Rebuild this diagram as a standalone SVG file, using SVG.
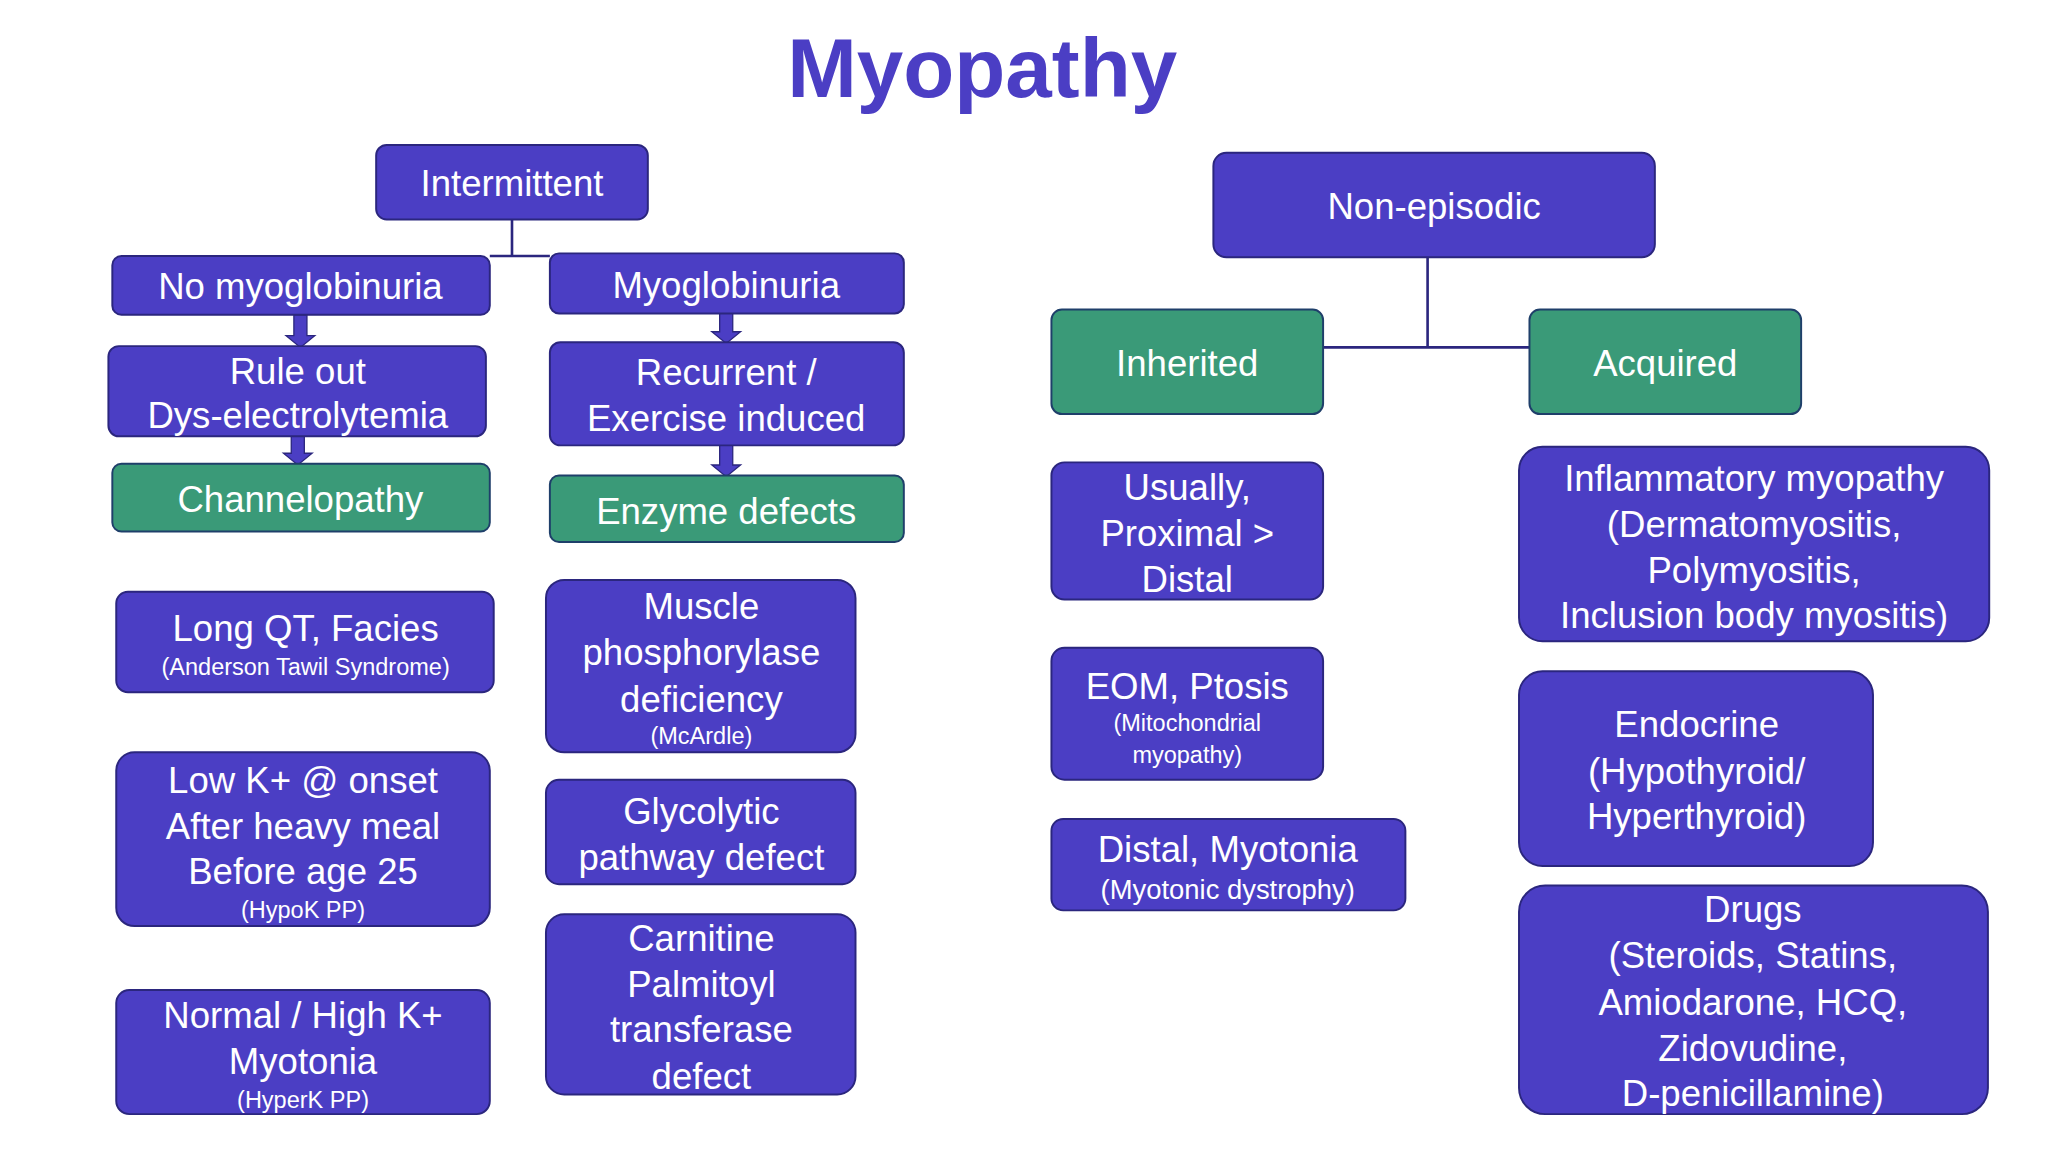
<svg xmlns="http://www.w3.org/2000/svg" width="2048" height="1152" viewBox="0 0 2048 1152">
<defs><style>
.b{fill:#4b3ec4;stroke:#2b267e;stroke-width:1.5}
.g{fill:#3a9a78;stroke:#1f3f6a;stroke-width:1.5}
text{font-family:"Liberation Sans",Arial,sans-serif;fill:#fff;text-anchor:middle}
.t{font-size:28px}
.s{font-size:18px}
.c{stroke:#2b267e;stroke-width:2;fill:none}
.a{fill:#4b3ec4;stroke:#2b267e;stroke-width:1}
</style></defs>
<rect width="2048" height="1152" fill="#fff"/>
<g transform="scale(1.30612)">
<text x="752" y="74" style="font-size:64px;font-weight:bold;fill:#4b3ec4">Myopathy</text>
<g id="connectors">
<path class="c" d="M392 168V196M375 196H421M1093 197V266M1013 266H1171"/>
<path class="a" d="M225 241h10v16h6l-11 9l-11-9h6z"/>
<path class="a" d="M223 334h10v13h6l-11 9l-11-9h6z"/>
<path class="a" d="M551 240h10v14h6l-11 9l-11-9h6z"/>
<path class="a" d="M551 341h10v15h6l-11 9l-11-9h6z"/>
</g>
<g id="intermittent"><rect class="b" x="288" y="111" width="208" height="57" rx="8"/><text class="t" x="392" y="150">Intermittent</text></g>
<g id="nomyo"><rect class="b" x="86" y="196" width="289" height="45" rx="7"/><text class="t" x="230" y="229">No myoglobinuria</text></g>
<g id="myo"><rect class="b" x="421" y="194" width="271" height="46" rx="7"/><text class="t" x="556" y="228">Myoglobinuria</text></g>
<g id="ruleout"><rect class="b" x="83" y="265" width="289" height="69" rx="8"/><text class="t" x="228" y="294">Rule out</text><text class="t" x="228" y="328">Dys-electrolytemia</text></g>
<g id="recurrent"><rect class="b" x="421" y="262" width="271" height="79" rx="8"/><text class="t" x="556" y="295">Recurrent /</text><text class="t" x="556" y="330">Exercise induced</text></g>
<g id="channel"><rect class="g" x="86" y="355" width="289" height="52" rx="7"/><text class="t" x="230" y="392">Channelopathy</text></g>
<g id="enzyme"><rect class="g" x="421" y="364" width="271" height="51" rx="7"/><text class="t" x="556" y="401">Enzyme defects</text></g>
<g id="longqt"><rect class="b" x="89" y="453" width="289" height="77" rx="9"/><text class="t" x="234" y="491">Long QT, Facies</text><text class="s" x="234" y="517">(Anderson Tawil Syndrome)</text></g>
<g id="mcardle"><rect class="b" x="418" y="444" width="237" height="132" rx="14"/><text class="t" x="537" y="474">Muscle</text><text class="t" x="537" y="509">phosphorylase</text><text class="t" x="537" y="545">deficiency</text><text class="s" x="537" y="570">(McArdle)</text></g>
<g id="lowk"><rect class="b" x="89" y="576" width="286" height="133" rx="14"/><text class="t" x="232" y="607">Low K+ @ onset</text><text class="t" x="232" y="642">After heavy meal</text><text class="t" x="232" y="677">Before age 25</text><text class="s" x="232" y="703">(HypoK PP)</text></g>
<g id="glyco"><rect class="b" x="418" y="597" width="237" height="80" rx="10"/><text class="t" x="537" y="631">Glycolytic</text><text class="t" x="537" y="666">pathway defect</text></g>
<g id="normalk"><rect class="b" x="89" y="758" width="286" height="95" rx="10"/><text class="t" x="232" y="787">Normal / High K+</text><text class="t" x="232" y="822">Myotonia</text><text class="s" x="232" y="848">(HyperK PP)</text></g>
<g id="carnitine"><rect class="b" x="418" y="700" width="237" height="138" rx="14"/><text class="t" x="537" y="728">Carnitine</text><text class="t" x="537" y="763">Palmitoyl</text><text class="t" x="537" y="798">transferase</text><text class="t" x="537" y="834">defect</text></g>
<g id="nonepisodic"><rect class="b" x="929" y="117" width="338" height="80" rx="10"/><text class="t" x="1098" y="168">Non-episodic</text></g>
<g id="inherited"><rect class="g" x="805" y="237" width="208" height="80" rx="8"/><text class="t" x="909" y="288">Inherited</text></g>
<g id="acquired"><rect class="g" x="1171" y="237" width="208" height="80" rx="8"/><text class="t" x="1275" y="288">Acquired</text></g>
<g id="usually"><rect class="b" x="805" y="354" width="208" height="105" rx="10"/><text class="t" x="909" y="383">Usually,</text><text class="t" x="909" y="418">Proximal &gt;</text><text class="t" x="909" y="453">Distal</text></g>
<g id="eom"><rect class="b" x="805" y="496" width="208" height="101" rx="10"/><text class="t" x="909" y="535">EOM, Ptosis</text><text class="s" x="909" y="560">(Mitochondrial</text><text class="s" x="909" y="584">myopathy)</text></g>
<g id="distal"><rect class="b" x="805" y="627" width="271" height="70" rx="9"/><text class="t" x="940" y="660">Distal, Myotonia</text><text class="s" x="940" y="688" style="font-size:21px">(Myotonic dystrophy)</text></g>
<g id="inflam"><rect class="b" x="1163" y="342" width="360" height="149" rx="18"/><text class="t" x="1343" y="376">Inflammatory myopathy</text><text class="t" x="1343" y="411">(Dermatomyositis,</text><text class="t" x="1343" y="446">Polymyositis,</text><text class="t" x="1343" y="481">Inclusion body myositis)</text></g>
<g id="endocrine"><rect class="b" x="1163" y="514" width="271" height="149" rx="18"/><text class="t" x="1299" y="564">Endocrine</text><text class="t" x="1299" y="600">(Hypothyroid/</text><text class="t" x="1299" y="635">Hyperthyroid)</text></g>
<g id="drugs"><rect class="b" x="1163" y="678" width="359" height="175" rx="20"/><text class="t" x="1342" y="706">Drugs</text><text class="t" x="1342" y="741">(Steroids, Statins,</text><text class="t" x="1342" y="777">Amiodarone, HCQ,</text><text class="t" x="1342" y="812">Zidovudine,</text><text class="t" x="1342" y="847">D-penicillamine)</text></g>
</g>
</svg>
